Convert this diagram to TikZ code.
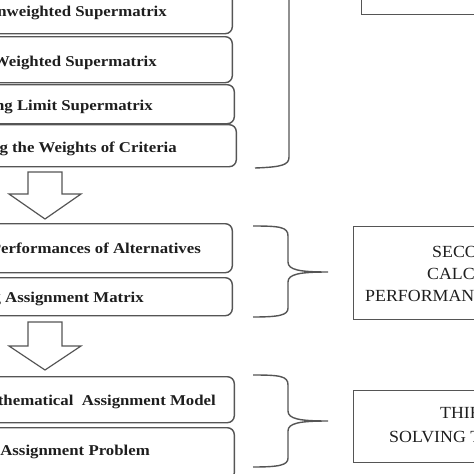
\documentclass[tikz,border=0pt]{standalone}
\usepackage{fontspec}
\setmainfont{Liberation Serif}
\newfontfamily\lblfont[FakeStretch=1.12]{Liberation Serif}
\newfontfamily\stagefont[FakeStretch=1.05]{Liberation Serif}
\begin{document}
\begin{tikzpicture}[x=1pt,y=-1pt,
  box/.style={draw=linegray, line width=1.4pt, rounded corners=7pt, inner sep=0pt},
  rbox/.style={draw=linegray, line width=1.3pt, inner sep=0pt},
  lbl/.style={font=\lblfont\fontsize{15}{17}\selectfont\bfseries, text=textcol, inner sep=0pt},
  rlbl/.style={font=\stagefont\fontsize{17}{19}\selectfont, text=textcol, inner sep=0pt, anchor=base west},
  brace/.style={draw=linegray, line width=1.4pt},
  bigarrow/.style={draw=linegray, line width=1.2pt, fill=white, line join=miter}]
\definecolor{linegray}{HTML}{555555}
\definecolor{textcol}{HTML}{1E1E1E}
\useasboundingbox (0,0) rectangle (474,474);
\clip (0,0) rectangle (474,474);
% left boxes
\node[box, anchor=north east, minimum width=420pt, minimum height=63pt] (b1) at (233,-30) {};
\node[box, anchor=north east, minimum width=420pt, minimum height=46pt] (b2) at (233,36) {};
\node[box, anchor=north east, minimum width=420pt, minimum height=39pt] (b3) at (235,84) {};
\node[box, anchor=north east, minimum width=420pt, minimum height=42pt] (b4) at (237,124) {};
\node[box, anchor=north east, minimum width=420pt, minimum height=49pt] (b5) at (233,223) {};
\node[box, anchor=north east, minimum width=420pt, minimum height=38pt] (b6) at (233,277) {};
\node[box, anchor=north east, minimum width=420pt, minimum height=46pt] (b7) at (235,376) {};
\node[box, anchor=north east, minimum width=420pt, minimum height=52pt] (b8) at (235,427) {};
% labels
\node[lbl, anchor=base east] (t1) at (167,16) {Unweighted Supermatrix};
\node[lbl, anchor=base east] (t2) at (157,66) {Forming Weighted Supermatrix};
\node[lbl, anchor=base east] (t3) at (153,110) {Obtaining Limit Supermatrix};
\node[lbl, anchor=base east] (t4) at (177,152) {Determining the Weights of Criteria};
\node[lbl, anchor=base east] (t5) at (201,253) {Calculating the Performances of Alternatives};
\node[lbl, anchor=base east] (t6) at (144,302) {Forming Assignment Matrix};
\node[lbl, anchor=base east] (t7) at (216,405) {Forming Mathematical\ \ Assignment Model};
\node[lbl, anchor=base east] (t8) at (150,455) {Solving the Assignment Problem};
% big arrows
\draw[bigarrow] (28,172) -- (62,172) -- (62,194) -- (81,194) -- (45,219) -- (9,194) -- (28,194) -- cycle;
\draw[bigarrow] (28,322) -- (62,322) -- (62,346) -- (81,346) -- (45,370) -- (9,346) -- (28,346) -- cycle;
% braces
\draw[brace] (289,-40) -- (289,157) .. controls (289,165) and (282,167) .. (255,168);
\draw[brace] (253,226) .. controls (280,226) and (288,227) .. (288,236) -- (288,262) .. controls (288,270) and (300,272) .. (328,272) .. controls (300,272) and (288,274) .. (288,282) -- (288,308) .. controls (288,315) and (280,317) .. (253,317);
\draw[brace] (253,375) .. controls (280,375) and (288,376) .. (288,385) -- (288,411) .. controls (288,419) and (300,421) .. (328,421) .. controls (300,421) and (288,423) .. (288,431) -- (288,458) .. controls (288,465) and (280,467) .. (253,467);
% right boxes
\node[rbox, anchor=south west, minimum width=200pt, minimum height=60pt] (r1) at (361,15) {};
\node[rbox, anchor=north west, minimum width=200pt, minimum height=93pt] (r2) at (353,226) {};
\node[rbox, anchor=north west, minimum width=200pt, minimum height=72pt] (r3) at (353,390) {};
\node[rlbl] (s1) at (432,257) {SECOND STAGE:};
\node[rlbl] (s2) at (427,279) {CALCULATING THE};
\node[rlbl] (s3) at (365,301) {PERFORMANCES OF ALTERNATIVES};
\node[rlbl] (u1) at (440,418) {THIRD STAGE:};
\node[rlbl] (u2) at (389,442) {SOLVING THE ASSIGNMENT PROBLEM};
\end{tikzpicture}
\end{document}
